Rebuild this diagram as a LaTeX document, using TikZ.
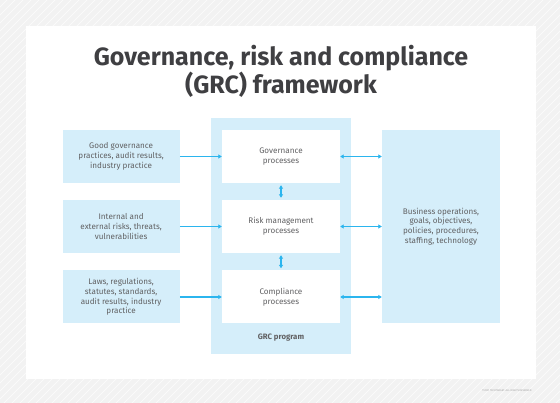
\documentclass[tikz,border=0pt]{standalone}
\usepackage{fontspec}
\setmainfont{Fira Sans}
\usepackage{tikz}
\usetikzlibrary{arrows.meta, positioning, calc}

\definecolor{panelblue}{HTML}{D5EEFA}
\definecolor{arrowblue}{HTML}{2BB5EE}
\definecolor{textgray}{HTML}{606062}
\definecolor{titlegray}{HTML}{3F3F42}
\definecolor{backgray}{HTML}{F2F2F2}

\begin{document}
\begin{tikzpicture}[
    x=1pt, y=-1pt,
    >={Triangle[length=3.5pt, width=4pt]},
    inbox/.style={rectangle, fill=panelblue, minimum width=117pt, minimum height=53pt, inner sep=2pt, font=\fontsize{8.1}{9.7}\selectfont, text=textgray, align=center},
    procbox/.style={rectangle, fill=white, minimum width=118pt, minimum height=53pt, inner sep=2pt, font=\fontsize{8.1}{9.7}\selectfont, text=textgray, align=center},
    flow/.style={->, line width=1.4pt, arrowblue},
    flow2/.style={<->, line width=1.4pt, arrowblue}
]
    % background and white panel
    \useasboundingbox (0,0) rectangle (560,403);
    \fill[backgray] (0,0) rectangle (560,403);
    \begin{scope}
      \clip (0,0) rectangle (560,403);
      \foreach \s in {-420,-412,...,560}
        \draw[white!60!backgray, line width=0.8pt] (\s,403) -- ++(403,-403);
    \end{scope}
    \fill[white] (26,26) rectangle (536,379);

    \node[font=\fontsize{25}{28}\selectfont\bfseries, text=titlegray, align=center] (Title) at (281,71)
      {Governance, risk and compliance\\(GRC) framework};

    % GRC program container
    \node[rectangle, fill=panelblue, minimum width=140pt, minimum height=236pt, inner sep=0pt] (GRC) at (281,236) {};
    \node[font=\fontsize{7.8}{9}\selectfont\bfseries, text=textgray] (GRClbl) at (281,338) {GRC program};

    \node[procbox] (Gov)  at (281,156.5) {Governance\\processes};
    \node[procbox] (Risk) at (281,226.5) {Risk management\\processes};
    \node[procbox] (Comp) at (281,297)   {Compliance\\processes};

    \node[inbox]   (InGov)  [left=42pt of Gov]  {Good governance\\practices, audit results,\\industry practice};
    \node[inbox]   (InRisk) [left=42pt of Risk] {Internal and\\external risks, threats,\\vulnerabilities};
    \node[inbox]   (InComp) [left=42pt of Comp] {Laws, regulations,\\statutes, standards,\\audit results, industry\\practice};

    \node[inbox, minimum width=118pt, minimum height=193pt] (Biz) at (441,226.5)
      {Business operations,\\goals, objectives,\\policies, procedures,\\staffing, technology};

    \coordinate (BizGov)  at (Biz.west |- Gov);
    \coordinate (BizRisk) at (Biz.west |- Risk);
    \coordinate (BizComp) at (Biz.west |- Comp);

    \draw[flow] (InGov)  -- (Gov);
    \draw[flow] (InRisk) -- (Risk);
    \draw[flow] (InComp) -- (Comp);
    \draw[flow2] (Gov.east)  -- (BizGov);
    \draw[flow2] (Risk.east) -- (BizRisk);
    \draw[flow2] (Comp.east) -- (BizComp);
    \draw[flow2, shorten <=2pt, shorten >=2pt] (Gov)  -- (Risk);
    \draw[flow2, shorten <=2pt, shorten >=2pt] (Risk) -- (Comp);

    \node[font=\fontsize{2.6}{3}\selectfont, text=gray!70, anchor=east] (Credit) at (535,391)
      {©2021 TECHTARGET. ALL RIGHTS RESERVED};
\end{tikzpicture}
\end{document}
